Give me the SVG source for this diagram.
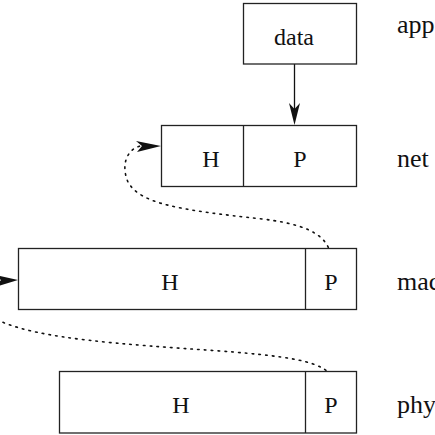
<svg xmlns="http://www.w3.org/2000/svg" width="435" height="435" viewBox="0 0 435 435">
<style>
.box{fill:#fff;stroke:#222;stroke-width:1.3}
.div{stroke:#222;stroke-width:1.3}
.t{font-family:"Liberation Serif",serif;font-size:24px;fill:#111;text-anchor:middle}
.lbl{font-family:"Liberation Serif",serif;font-size:26px;fill:#111}
.dot{fill:none;stroke:#111;stroke-width:1.6;stroke-dasharray:1.6 5.2;stroke-linecap:round}
</style>
<rect width="435" height="435" fill="#fff"/>
<g id="connectors">
<line x1="294.5" y1="64" x2="294.5" y2="110" stroke="#111" stroke-width="1.3"/>
<polygon points="294.5,125 289,103 294.5,109 300,103" fill="#111"/>
<path class="dot" d="M333 267 C331 242 322 226 262 219 C180 210 140 204 128 182 C121 166 126 150 140 146"/>
<polygon points="161,146 136,141 142,146 137,152" fill="#111"/>
<path class="dot" d="M334 381 C328 363 300 357 220 351 C120 344 40 339 0 321"/>
<polygon points="18,280 -5,275 1,280 -5,287" fill="#111"/>
</g>
<g id="data">
<rect class="box" x="243.5" y="3.5" width="113" height="60.5"/>
<text class="t" x="294" y="45">data</text>
</g>
<g id="net">
<rect class="box" x="161.5" y="125.5" width="195" height="61"/>
<line class="div" x1="243.5" y1="125.5" x2="243.5" y2="186.5"/>
<text class="t" x="211" y="167">H</text>
<text class="t" x="300" y="167">P</text>
</g>
<g id="mac">
<rect class="box" x="18.5" y="248.5" width="338" height="61"/>
<line class="div" x1="305.5" y1="248.5" x2="305.5" y2="309.5"/>
<text class="t" x="170" y="290">H</text>
<text class="t" x="331" y="290">P</text>
</g>
<g id="phy">
<rect class="box" x="59.5" y="371.5" width="297" height="61.5"/>
<line class="div" x1="305.5" y1="371.5" x2="305.5" y2="433"/>
<text class="t" x="181" y="413">H</text>
<text class="t" x="331" y="413">P</text>
</g>
<g id="labels">
<text class="lbl" x="397" y="33">app</text>
<text class="lbl" x="397" y="167">net</text>
<text class="lbl" x="397" y="290">mac</text>
<text class="lbl" x="397" y="413">phy</text>
</g>
</svg>
